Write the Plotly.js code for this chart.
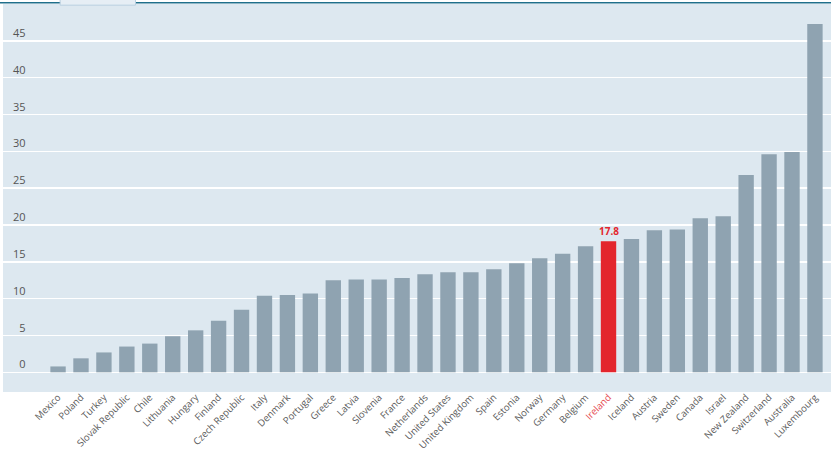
<!DOCTYPE html>
<html>
<head>
<meta charset="utf-8">
<script src="https://cdn.plot.ly/plotly-3.0.1.min.js"></script>
<style>
  html, body { margin: 0; padding: 0; background: #fff; }
  #chart { width: 831px; height: 452px; }
</style>
</head>
<body>
<div id="chart"></div>
<script>
// 국가별 값
const countries = ['Mexico', 'Poland', 'Turkey', 'Slovak Republic', 'Chile', 'Lithuania', 'Hungary',
  'Finland', 'Czech Republic', 'Italy', 'Denmark', 'Portugal', 'Greece', 'Latvia', 'Slovenia',
  'France', 'Netherlands', 'United States', 'United Kingdom', 'Spain', 'Estonia', 'Norway',
  'Germany', 'Belgium', 'Ireland', 'Iceland', 'Austria', 'Sweden', 'Canada', 'Israel',
  'New Zealand', 'Switzerland', 'Australia', 'Luxembourg'];
const values = [0.8, 1.9, 2.7, 3.5, 3.9, 4.9, 5.7, 7.0, 8.5, 10.4, 10.5, 10.7, 12.5, 12.6, 12.6,
  12.8, 13.3, 13.6, 13.6, 14.0, 14.8, 15.5, 16.1, 17.1, 17.8, 18.1, 19.3, 19.4, 20.9, 21.2,
  26.8, 29.6, 29.9, 47.3];
const highlight = 'Ireland';
const yTicks = [0, 5, 10, 15, 20, 25, 30, 35, 40, 45];

const grey = '#8fa3b1';
const red = '#e3262d';

const barColors = countries.map(c => c === highlight ? red : grey);
const tickText = countries.map(c => c === highlight ? '<span style="color:#e5484f">' + c + '</span>' : c);
const hi = countries.indexOf(highlight);

const trace = {
  type: 'bar',
  x: countries,
  y: values,
  marker: { color: barColors, line: { width: 0 } },
  hoverinfo: 'x+y'
};

const layout = {
  width: 831,
  height: 452,
  margin: { l: 3, r: 0, t: 4, b: 60 },
  paper_bgcolor: '#ffffff',
  plot_bgcolor: '#dde8f0',
  showlegend: false,
  bargap: 0.33,
  font: { family: 'Open Sans, DejaVu Sans, sans-serif', color: '#555' },
  xaxis: {
    type: 'category',
    range: [-2.4, countries.length - 0.3],
    tickvals: countries,
    ticktext: tickText,
    tickangle: -45,
    tickfont: { size: 9.6, color: '#5a5a5a' },
    ticklabelstandoff: -3,
    showgrid: false,
    zeroline: false,
    showline: false,
    ticks: '',
    ticklen: 0,
    fixedrange: true
  },
  yaxis: {
    range: [-2.67, 50],
    tickvals: yTicks,
    ticktext: yTicks.map(v => v < 10 ? '\u2007' + v : String(v)),
    ticklabelposition: 'inside top',
    ticklabelstandoff: 7,
    tickfont: { size: 11, color: '#555' },
    showgrid: true,
    gridcolor: '#ffffff',
    gridwidth: 1.5,
    zeroline: true,
    zerolinecolor: '#ffffff',
    zerolinewidth: 1.5,
    showline: false,
    ticks: '',
    fixedrange: true
  },
  annotations: [{
    x: countries[hi],
    y: values[hi],
    text: '<b>' + values[hi].toFixed(1) + '</b>',
    showarrow: false,
    yanchor: 'bottom',
    yshift: 1,
    font: { size: 10, color: red, family: 'Open Sans, sans-serif' }
  }],
  shapes: [
    // 상단 라인
    { type: 'line', xref: 'paper', yref: 'paper', x0: -0.01, x1: 1, y0: 1.003, y1: 1.003,
      line: { color: '#1f6f8b', width: 1.5 } },
    // 상단 탭
    { type: 'rect', xref: 'paper', yref: 'paper', x0: 0.069, x1: 0.160, y0: 0.997, y1: 1.012,
      fillcolor: '#e6eef5', line: { color: '#b9cfe0', width: 1 } }
  ]
};

Plotly.newPlot('chart', [trace], layout, { displayModeBar: false, staticPlot: true });
</script>
</body>
</html>
